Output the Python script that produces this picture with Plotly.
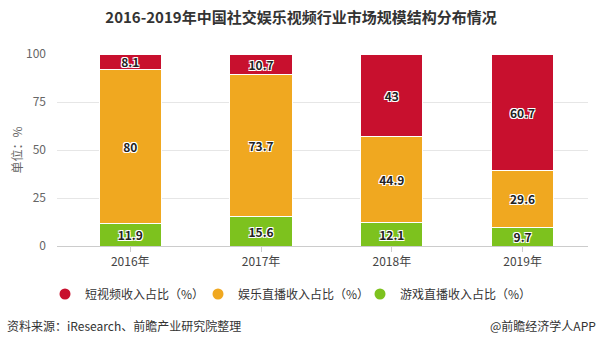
import plotly.graph_objects as go

years = ["2016年", "2017年", "2018年", "2019年"]
short_video = [8.1, 10.7, 43, 60.7]
ent_live = [80, 73.7, 44.9, 29.6]
game_live = [11.9, 15.6, 12.1, 9.7]
names = ["短视频收入占比（%）", "娱乐直播收入占比（%）", "游戏直播收入占比（%）"]
colors = ["#C8102E", "#F0A820", "#7DC21E"]
y_ticks = [0, 25, 50, 75, 100]

FONT = "Noto Sans CJK SC, Microsoft YaHei, sans-serif"
shadow = "-1px -1px 0 #fff, 1px -1px 0 #fff, -1px 1px 0 #fff, 1px 1px 0 #fff"

fig = go.Figure()
series = [(game_live, names[2], colors[2]), (ent_live, names[1], colors[1]), (short_video, names[0], colors[0])]
for vals, nm, col in series:
    fig.add_trace(go.Bar(
        x=years, y=vals, name=nm, showlegend=False,
        marker=dict(color=col, line=dict(color="#ffffff", width=1)),
        width=0.475,
        text=[str(v) for v in vals], textposition="inside", insidetextanchor="middle",
        textfont=dict(family=FONT, size=12, color="#222222", weight="bold", shadow=shadow),
        constraintext="none",
    ))

# legend entries with circle symbols, each in its own legend box for exact placement
legend_ids = ["legend", "legend2", "legend3"]
legend_px = [45, 198, 360]
for nm, col, lid in zip(names, colors, legend_ids):
    fig.add_trace(go.Scatter(x=[None], y=[None], mode="markers", name=nm, legend=lid,
                             marker=dict(symbol="circle", size=11, color=col)))

leg_common = dict(orientation="h", xanchor="left", y=-0.25, yanchor="middle",
                  font=dict(size=12, color="#333333"), itemclick=False,
                  bgcolor="rgba(0,0,0,0)")
legend_layout = {lid: dict(x=(px - 57) / 531, **leg_common) for lid, px in zip(legend_ids, legend_px)}

fig.update_layout(
    width=602, height=347,
    margin=dict(l=57, r=14, t=54, b=101),
    barmode="stack",
    plot_bgcolor="#ffffff", paper_bgcolor="#ffffff",
    font=dict(family=FONT, size=12, color="#333333"),
    title=dict(text="<b>2016-2019年中国社交娱乐视频行业市场规模结构分布情况</b>",
               x=0.5, xanchor="center", y=0.948, yanchor="middle",
               font=dict(family=FONT, size=15, color="#333333")),
    showlegend=True,
    **legend_layout,
)
fig.update_xaxes(range=[-0.56, 3.5], showgrid=False, showline=True, linecolor="#cccccc",
                 ticks="outside", ticklen=5, tickcolor="#cccccc", automargin=False,
                 tickfont=dict(size=12, color="#444444"))
fig.update_yaxes(range=[0, 100], tickvals=y_ticks, showgrid=True, gridcolor="#e6e6e6",
                 zeroline=False, showline=False, ticks="", ticklabelstandoff=10, automargin=False,
                 tickfont=dict(size=12, color="#666666"),
                 title=dict(text="单位：%", font=dict(size=12, color="#666666"), standoff=0))

fig.add_annotation(text="资料来源：iResearch、前瞻产业研究院整理", xref="paper", yref="paper",
                   x=-57/531, xanchor="left", y=-79/192, yanchor="middle", showarrow=False,
                   font=dict(size=12, color="#333333"), xshift=5)
fig.add_annotation(text="@前瞻经济学人APP", xref="paper", yref="paper",
                   x=1 + 14/531, xanchor="right", y=-79/192, yanchor="middle", showarrow=False,
                   font=dict(size=12, color="#333333"), xshift=-4)

fig.write_html("out.html")
